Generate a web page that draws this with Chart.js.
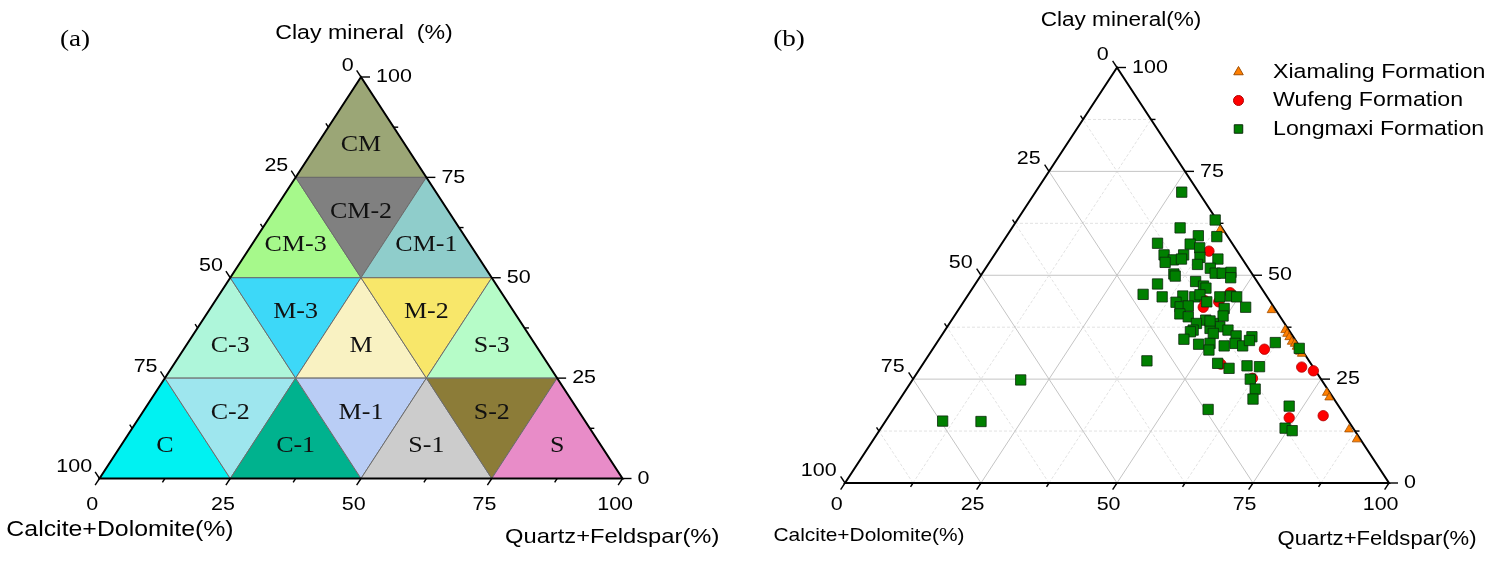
<!DOCTYPE html>
<html><head><meta charset="utf-8">
<script src="https://cdn.jsdelivr.net/npm/chart.js@4.4.1/dist/chart.umd.min.js"></script>
<style>
html,body{margin:0;padding:0;background:#fff;}
#wrap{position:relative;width:1496px;height:561px;overflow:hidden;background:#fff;}
canvas{position:absolute;top:0;}
</style></head><body>
<div id="wrap">
<canvas id="ca" width="748" height="561" style="left:0px"></canvas>
<canvas id="cb" width="748" height="561" style="left:748px"></canvas>
</div>
<script>
// ---------------- data ----------------
const classBounds = [0, 25, 50, 75, 100];
const classNames = ['CM', 'CM-3', 'CM-2', 'CM-1', 'C-3', 'M-3', 'M', 'M-2', 'S-3', 'C', 'C-2', 'C-1', 'M-1', 'S-1', 'S-2', 'S'];
const classColors = ['#9ba676', '#a6f98b', '#808080', '#8fcdcb', '#aef6da', '#3dd8f8', '#f9f2c2', '#f8e76a', '#b6fcc8',
                     '#00f2f2', '#9ee6ee', '#00b28e', '#b9cdf5', '#cccccc', '#8c7c38', '#e88cc8'];
const tickValues = [0, 25, 50, 75, 100];
const minorTickValues = [12.5, 37.5, 62.5, 87.5];
const gridMajor = [25, 50, 75];
const gridMinor = [12.5, 37.5, 62.5, 87.5];

const seriesNames = ['Xiamaling Formation', 'Wufeng Formation', 'Longmaxi Formation'];
// clay mineral (%) and quartz+feldspar (%) of each sample; calcite+dolomite is the remainder
const xiamalingClay   = [60.9, 41.6, 36.8, 35.9, 35.1, 34.0, 33.5, 32.8, 31.6, 31.1, 21.7, 20.6, 12.9, 10.5];
const xiamalingQuartz = [38.5, 57.6, 62.5, 63.3, 64.1, 65.1, 65.9, 66.6, 67.8, 68.4, 77.7, 78.7, 86.2, 88.8];
const wufengClay   = [55.8, 45.8, 42.3, 43.6, 43.9, 32.2, 28.6, 27.9, 27.0, 25.2, 15.7, 16.2];
const wufengQuartz = [39.0, 47.9, 44.7, 46.9, 44.2, 61.0, 54.8, 70.0, 72.6, 62.3, 73.8, 79.8];
const longmaxiClay = [70.0, 63.3, 61.4, 59.5, 59.3, 57.7, 57.5, 56.6, 54.9, 54.9, 53.7, 53.9, 53.1, 54.3, 53.9, 52.6,
  50.3, 49.8, 51.7, 50.5, 50.5, 50.7, 49.4, 47.9, 45.4, 44.8, 48.5, 47.4, 46.9, 45.0, 44.8, 45.3, 44.8, 45.0, 44.8,
  43.5, 42.4, 42.6, 43.6, 42.0, 42.3, 40.7, 40.0, 40.2, 39.2, 38.4, 38.4, 37.6, 36.8, 37.2, 36.8, 36.4, 36.0, 35.4,
  35.2, 34.6, 33.6, 33.6, 33.0, 34.3, 33.4, 32.0, 33.0, 33.8, 29.4, 28.8, 27.6, 28.2, 28.0, 25.0, 22.6, 20.2, 17.7,
  18.5, 13.2, 12.6, 32.4, 24.8, 14.9, 14.8, 39.0];
const longmaxiQuartz = [26.9, 36.4, 30.9, 35.2, 38.7, 28.6, 34.7, 36.9, 31.2, 34.8, 33.5, 34.9, 32.3, 38.1, 41.6, 38.5,
  35.3, 35.8, 41.3, 42.8, 44.1, 45.6, 46.2, 33.5, 32.1, 35.9, 40.2, 42.2, 42.9, 39.6, 41.9, 42.6, 46.5, 48.4, 49.6,
  39.1, 40.4, 41.8, 44.7, 48.7, 52.5, 41.2, 43.1, 49.4, 46.7, 45.4, 48.5, 50.1, 52.0, 48.5, 45.6, 45.3, 49.7, 54.2,
  57.2, 45.0, 50.3, 54.9, 56.6, 57.2, 48.3, 50.9, 53.2, 62.2, 40.8, 54.1, 56.8, 59.8, 62.2, 62.0, 64.1, 64.9, 57.9,
  72.4, 74.3, 75.9, 67.3, 19.9, 10.5, 17.6, 47.6];

// ---------------- helpers ----------------
const SANS = '"Liberation Sans", Arial, Helvetica, sans-serif';
const SERIF = '"Liberation Serif", "Times New Roman", serif';
const STRETCH = 1.13;   // the figure is horizontally stretched

function toXY(clay, quartz) { return { x: quartz + clay / 2, y: clay }; }
function series(clay, quartz) { return clay.map((c, i) => toXY(c, quartz[i])); }

function sText(ctx, str, x, y, align, baseline, font, color) {
  ctx.save();
  ctx.font = font; ctx.textAlign = align; ctx.textBaseline = baseline;
  ctx.fillStyle = color || '#000';
  ctx.translate(x, y); ctx.scale(STRETCH, 1);
  ctx.fillText(str, 0, 0);
  ctx.restore();
}
function pixFn(chart) {
  const X = chart.scales.x, Y = chart.scales.y;
  return (clay, q) => [X.getPixelForValue(q + clay / 2), Y.getPixelForValue(clay)];
}
function unit(a, b) { const dx = b[0] - a[0], dy = b[1] - a[1], l = Math.hypot(dx, dy); return [dx / l, dy / l]; }
function seg(ctx, a, b) { ctx.beginPath(); ctx.moveTo(a[0], a[1]); ctx.lineTo(b[0], b[1]); ctx.stroke(); }

function drawFrame(chart, o) {
  const ctx = chart.ctx, P = pixFn(chart);
  const T = P(100, 0), BL = P(0, 0), BR = P(0, 100);
  const dL = unit(BR, T);           // ticks of the left axis (parallel to right edge)
  const dB = unit(T, BL);           // ticks of the bottom axis (parallel to left edge)
  const dR = [1, 0];                // ticks of the right axis (horizontal)
  ctx.save();
  ctx.strokeStyle = '#000'; ctx.lineWidth = 2; ctx.lineJoin = 'miter';
  ctx.beginPath(); ctx.moveTo(BL[0], BL[1]); ctx.lineTo(T[0], T[1]); ctx.lineTo(BR[0], BR[1]); ctx.closePath(); ctx.stroke();
  ctx.lineWidth = 1.4;
  const all = tickValues.map(v => [v, true]).concat(minorTickValues.map(v => [v, false]));
  all.forEach(([v, major]) => {
    const len = major ? o.tickLen : o.minorLen;
    // left axis: calcite+dolomite
    let p = P(100 - v, 0), e = [p[0] + dL[0] * len, p[1] + dL[1] * len];
    seg(ctx, p, e);
    if (major) sText(ctx, String(v), e[0] + o.left[0], e[1] + o.left[1], 'right', 'middle', o.tickFont);
    // bottom axis: quartz+feldspar
    p = P(0, v); e = [p[0] + dB[0] * len, p[1] + dB[1] * len];
    seg(ctx, p, e);
    if (major) sText(ctx, String(v), e[0] + o.bottom[0], e[1] + o.bottom[1], 'center', 'top', o.tickFont);
    // right axis: clay mineral
    const rl = major ? o.rightLen : o.minorLen;
    p = P(v, 100 - v); e = [p[0] + dR[0] * rl, p[1]];
    seg(ctx, p, e);
    if (major) sText(ctx, String(v), p[0] + o.right[0], p[1] + o.right[1], 'left', 'middle', o.tickFont);
  });
  ctx.restore();
}

// ---------------- panel (a) ----------------
const panelA = {
  id: 'panelA',
  beforeDatasetsDraw(chart) {
    const ctx = chart.ctx, P = pixFn(chart);
    let idx = 0;
    const n = classBounds.length - 1;
    for (let r = 0; r < n; r++) {
      const cT = classBounds[n - r], cB = classBounds[n - r - 1];
      for (let j = 0; j < 2 * r + 1; j++) {
        const k = Math.floor(j / 2);
        let v;
        if (j % 2 === 0) v = [P(cB, classBounds[k]), P(cB, classBounds[k + 1]), P(cT, classBounds[k])];
        else v = [P(cT, classBounds[k]), P(cT, classBounds[k + 1]), P(cB, classBounds[k + 1])];
        ctx.save();
        ctx.beginPath(); ctx.moveTo(v[0][0], v[0][1]); ctx.lineTo(v[1][0], v[1][1]); ctx.lineTo(v[2][0], v[2][1]); ctx.closePath();
        ctx.fillStyle = classColors[idx]; ctx.fill();
        ctx.strokeStyle = '#6b6b6b'; ctx.lineWidth = 1; ctx.stroke();
        ctx.restore();
        const cx = (v[0][0] + v[1][0] + v[2][0]) / 3, cy = (v[0][1] + v[1][1] + v[2][1]) / 3;
        sText(ctx, classNames[idx], cx, cy + 1, 'center', 'middle', '23px ' + SERIF, '#111');
        idx++;
      }
    }
    drawFrame(chart, { tickLen: 8, minorLen: 4.5, rightLen: 9, tickFont: '19px ' + SANS,
      left: [-3, -5], bottom: [-3, 10], right: [15, 0] });
    sText(ctx, '(a)', 75, 40, 'center', 'middle', '24px ' + SERIF);
    sText(ctx, 'Clay mineral  (%)', 364, 33, 'center', 'middle', '20.5px ' + SANS);
    sText(ctx, 'Calcite+Dolomite(%)', 120, 530, 'center', 'middle', '22px ' + SANS);
    sText(ctx, 'Quartz+Feldspar(%)', 505, 537, 'left', 'middle', '21px ' + SANS);
  }
};

new Chart(document.getElementById('ca'), {
  type: 'scatter',
  data: { datasets: [] },
  options: {
    responsive: false, animation: false, devicePixelRatio: 1,
    layout: { padding: { left: 99.5, right: 125.5, top: 77, bottom: 82.5 } },
    scales: { x: { type: 'linear', min: 0, max: 100, display: false }, y: { type: 'linear', min: 0, max: 100, display: false } },
    plugins: { legend: { display: false }, tooltip: { enabled: false } }
  },
  plugins: [panelA]
});

// ---------------- panel (b) ----------------
const panelB = {
  id: 'panelB',
  beforeDatasetsDraw(chart) {
    const ctx = chart.ctx, P = pixFn(chart);
    ctx.save();
    const lines = (vals, style) => vals.forEach(v => {
      ctx.strokeStyle = style.color; ctx.lineWidth = 1; ctx.setLineDash(style.dash);
      seg(ctx, P(v, 0), P(v, 100 - v));          // constant clay
      seg(ctx, P(0, v), P(100 - v, v));          // constant quartz+feldspar
      seg(ctx, P(0, 100 - v), P(100 - v, 0));    // constant calcite+dolomite
    });
    lines(gridMinor, { color: '#e2e2e2', dash: [3, 2] });
    lines(gridMajor, { color: '#c4c4c4', dash: [] });
    ctx.restore();
    drawFrame(chart, { tickLen: 8, minorLen: 4.5, rightLen: 9, tickFont: '19px ' + SANS,
      left: [-4, -6], bottom: [-4, 6], right: [15, 0] });
    sText(ctx, '(b)', 789 - 748, 40, 'center', 'middle', '24px ' + SERIF);
    sText(ctx, 'Clay mineral(%)', 1121 - 748, 20, 'center', 'middle', '20px ' + SANS);
    sText(ctx, 'Calcite+Dolomite(%)', 869 - 748, 536, 'center', 'middle', '18.5px ' + SANS);
    sText(ctx, 'Quartz+Feldspar(%)', 1377 - 748, 540, 'center', 'middle', '19.5px ' + SANS);
  },
  afterDatasetsDraw(chart) {
    const ctx = chart.ctx;
    const rows = [72, 100.5, 129];
    const mx = 1238.5 - 748, tx = 1273 - 748;
    chart.data.datasets.forEach((ds, i) => {
      const y = rows[i];
      ctx.save();
      ctx.fillStyle = ds.backgroundColor; ctx.strokeStyle = ds.borderColor; ctx.lineWidth = 1;
      Chart.helpers.drawPoint(ctx, { pointStyle: ds.pointStyle, radius: ds.legendRadius, borderWidth: 1, rotation: 0 }, mx, y);
      ctx.restore();
      sText(ctx, ds.label, tx, y, 'left', 'middle', '20.5px ' + SANS);
    });
  }
};

new Chart(document.getElementById('cb'), {
  type: 'scatter',
  data: {
    datasets: [
      { label: seriesNames[0], data: series(xiamalingClay, xiamalingQuartz), pointStyle: 'triangle', pointRadius: 5, legendRadius: 5.5,
        backgroundColor: '#ff7f00', borderColor: '#a04e00', borderWidth: 0.8, order: 2, clip: false },
      { label: seriesNames[1], data: series(wufengClay, wufengQuartz), pointStyle: 'circle', pointRadius: 5.2, legendRadius: 5,
        backgroundColor: '#ff0000', borderColor: '#b00000', borderWidth: 0.8, order: 1, clip: false },
      { label: seriesNames[2], data: series(longmaxiClay, longmaxiQuartz), pointStyle: 'rect', pointRadius: 7.3, legendRadius: 6,
        backgroundColor: '#008000', borderColor: '#0b2a0b', borderWidth: 0.8, order: 0, clip: false }
    ]
  },
  options: {
    responsive: false, animation: false, devicePixelRatio: 1,
    layout: { padding: { left: 97, right: 107, top: 67.5, bottom: 78 } },
    scales: { x: { type: 'linear', min: 0, max: 100, display: false }, y: { type: 'linear', min: 0, max: 100, display: false } },
    plugins: { legend: { display: false }, tooltip: { enabled: false } }
  },
  plugins: [panelB]
});
</script>
</body></html>
